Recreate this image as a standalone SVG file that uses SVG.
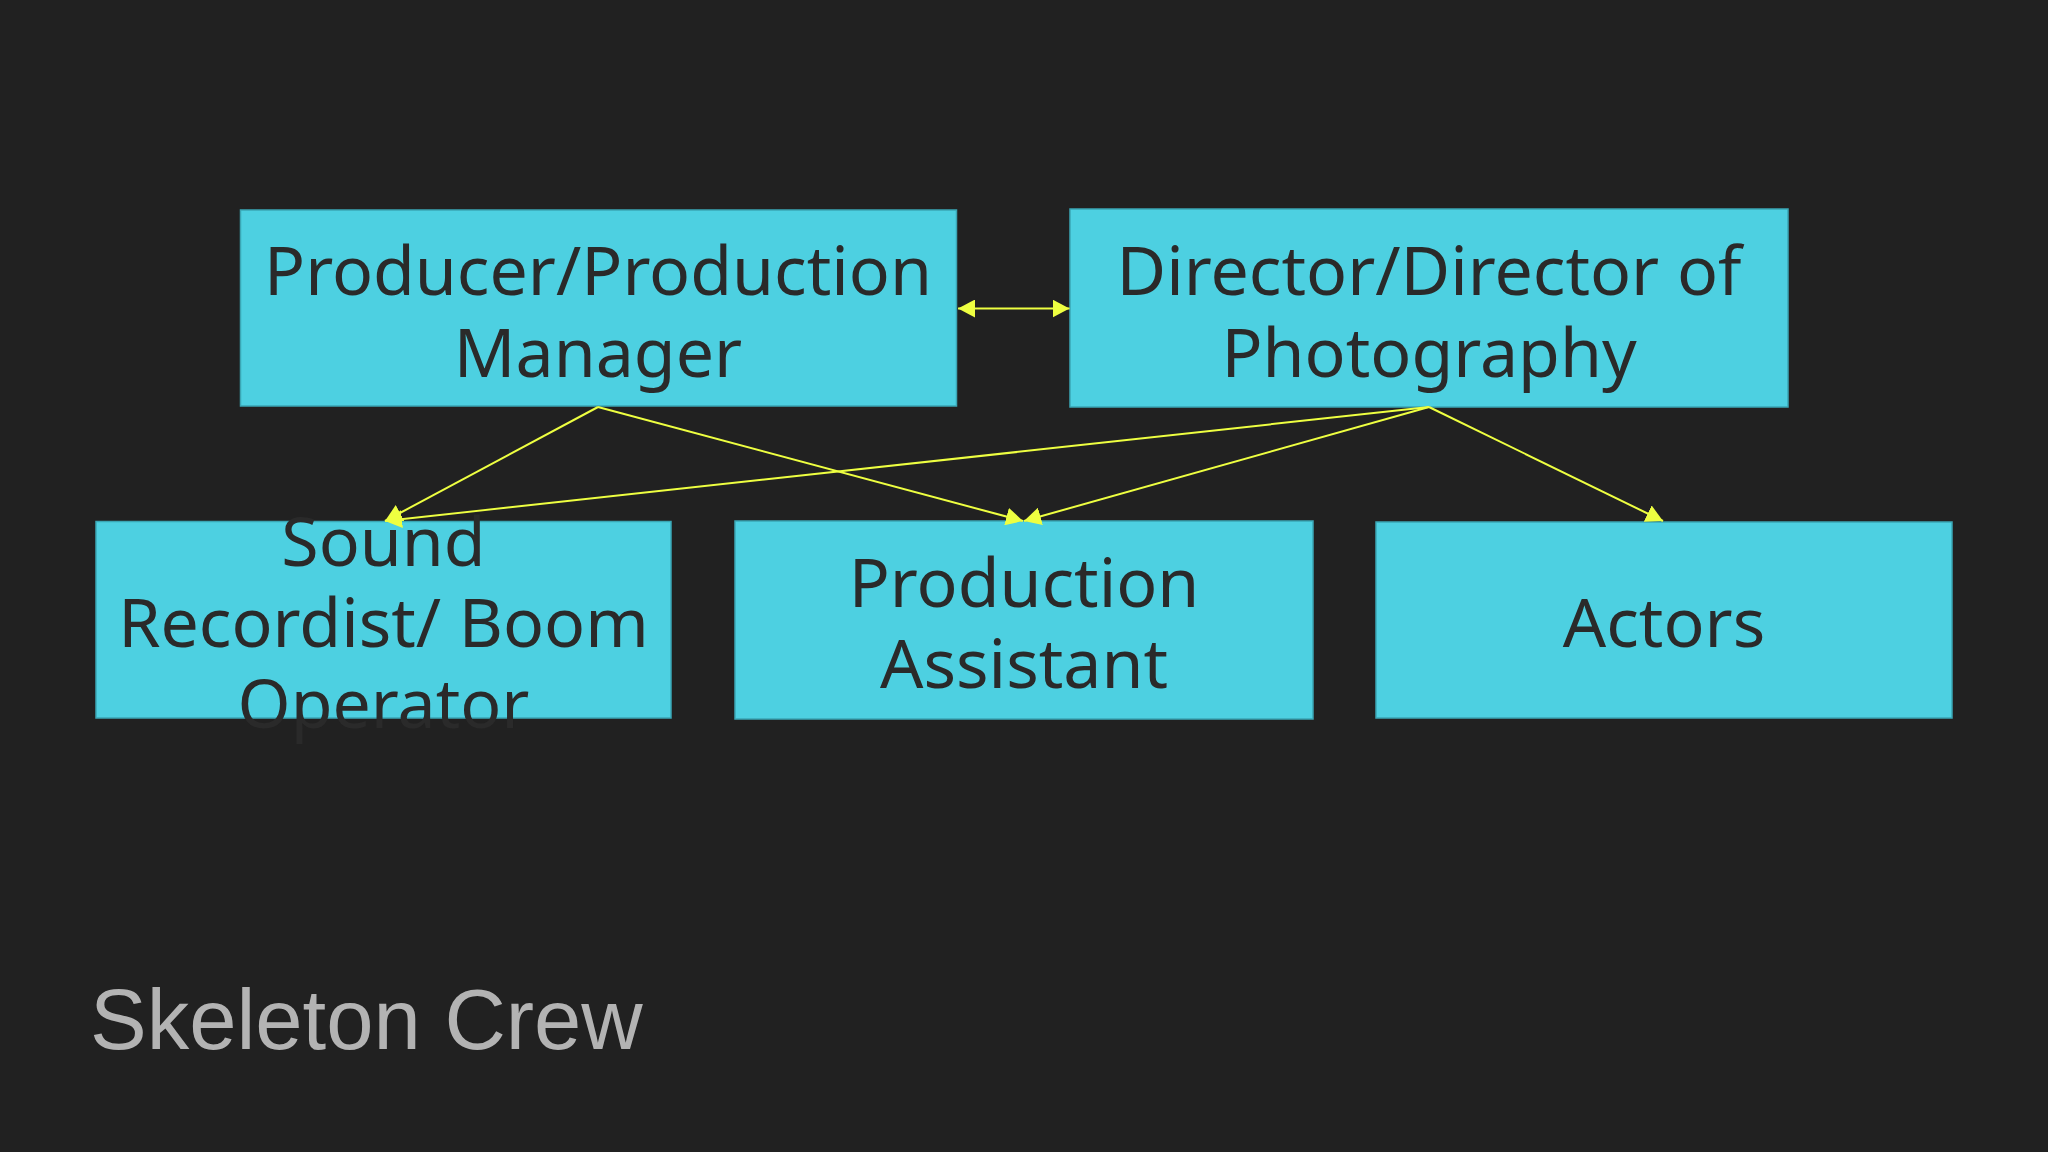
<svg xmlns="http://www.w3.org/2000/svg" width="2048" height="1152" viewBox="0 0 2048 1152">
  <style>
    .box { fill: #4dd0e1; stroke: #3aa6b5; stroke-width: 1.5; }
    .lbl { font-family: "Noto Sans", "Open Sans", sans-serif; font-size: 68px; fill: #2a2a2a; text-anchor: middle; }
    .conn { stroke: #eeff41; stroke-width: 2; fill: none; }
    .title { font-family: "Liberation Sans", Arial, sans-serif; font-size: 85px; fill: #b3b3b3; }
  </style>
  <defs>
    <marker id="ah" markerUnits="userSpaceOnUse" markerWidth="17" markerHeight="18" refX="17" refY="9" orient="auto-start-reverse" viewBox="0 0 17 18">
      <path d="M0,0 L17,9 L0,18 z" fill="#eeff41"/>
    </marker>
  </defs>
  <rect width="2048" height="1152" fill="#212121"/>

  <g id="node-producer">
    <rect class="box" x="240.5" y="210" width="716" height="196"/>
    <text class="lbl"><tspan x="598" y="295">Producer/Production</tspan><tspan x="598" y="377">Manager</tspan></text>
  </g>
  <g id="node-director">
    <rect class="box" x="1070" y="209" width="718" height="198"/>
    <text class="lbl"><tspan x="1429" y="295">Director/Director of</tspan><tspan x="1429" y="377">Photography</tspan></text>
  </g>
  <g id="node-sound">
    <rect class="box" x="96" y="521.5" width="575" height="196.5"/>
    <text class="lbl"><tspan x="383.5" y="566">Sound</tspan><tspan x="383.5" y="647">Recordist/ Boom</tspan><tspan x="383.5" y="728">Operator</tspan></text>
  </g>
  <g id="node-pa">
    <rect class="box" x="735" y="521" width="578" height="198"/>
    <text class="lbl"><tspan x="1024" y="607">Production</tspan><tspan x="1024" y="688">Assistant</tspan></text>
  </g>
  <g id="node-actors">
    <rect class="box" x="1376" y="522" width="576" height="196"/>
    <text class="lbl" x="1664" y="647">Actors</text>
  </g>

  <g id="connectors">
    <line class="conn" x1="958" y1="308.5" x2="1069.5" y2="308.5" marker-start="url(#ah)" marker-end="url(#ah)"/>
    <line class="conn" x1="598" y1="407" x2="385" y2="521" marker-end="url(#ah)"/>
    <line class="conn" x1="598" y1="407" x2="1023" y2="521" marker-end="url(#ah)"/>
    <line class="conn" x1="1429" y1="407" x2="385" y2="521" marker-end="url(#ah)"/>
    <line class="conn" x1="1429" y1="407" x2="1024" y2="521" marker-end="url(#ah)"/>
    <line class="conn" x1="1429" y1="407" x2="1663" y2="521" marker-end="url(#ah)"/>
  </g>

  <text class="title" x="90" y="1049">Skeleton Crew</text>
</svg>
